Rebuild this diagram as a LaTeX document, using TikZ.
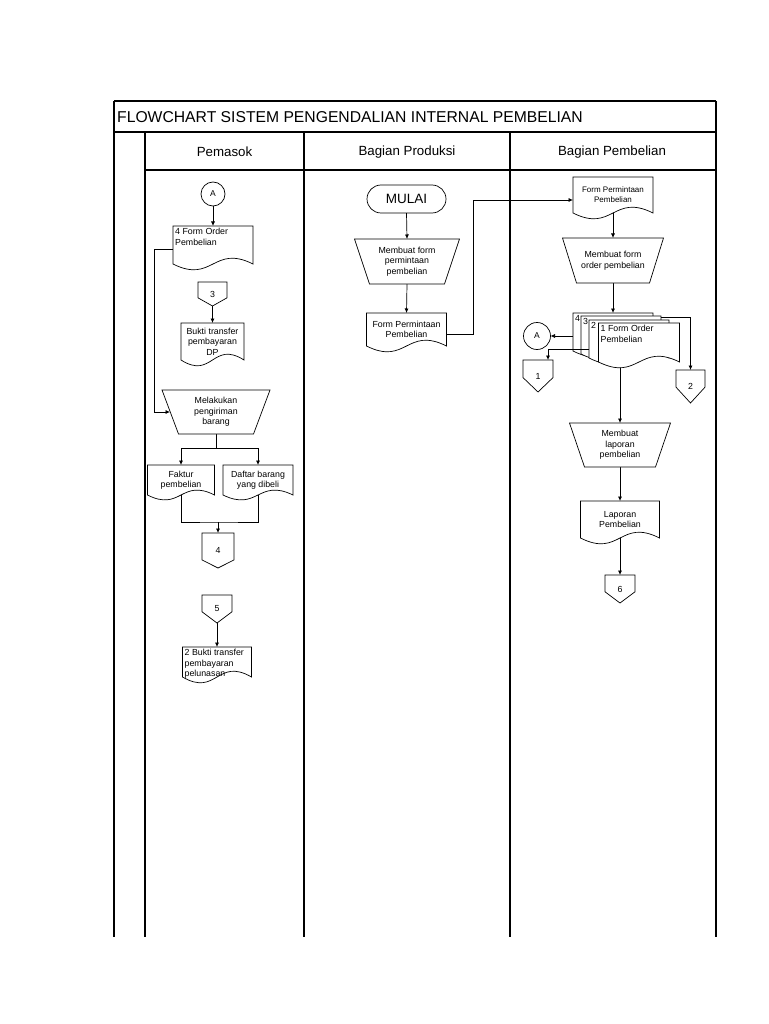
\documentclass[tikz,border=0pt]{standalone}
\usepackage{fontspec}
\setmainfont{Liberation Sans}
\usetikzlibrary{arrows.meta,calc}
\pgfdeclarelayer{bg}
\pgfdeclarelayer{shp}
\pgfsetlayers{bg,shp,main}
\newcommand\smallfnt{\fontsize{8.8}{10.5}\selectfont}
\newcommand\docshape[2][18pt]{%
  \begin{pgfonlayer}{shp}
  \draw[outl] (#2.north west) -- (#2.north east) -- (#2.south east)
     .. controls ($(#2.south)+(0pt,#1)$) and ($(#2.south)+(0pt,-#1)$) .. (#2.south west) -- cycle;
  \end{pgfonlayer}}
\newcommand\manop[2]{%
  \begin{pgfonlayer}{shp}
  \draw[outl] (#1.north west) -- (#1.north east) -- ([xshift=-#2]#1.south east) -- ([xshift=#2]#1.south west) -- cycle;
  \end{pgfonlayer}}
\newcommand\offpg[2][0.62]{%
  \begin{pgfonlayer}{shp}
  \draw[outl] (#2.north west) -- (#2.north east) -- ($(#2.north east)!#1!(#2.south east)$) -- (#2.south) -- ($(#2.north west)!#1!(#2.south west)$) -- cycle;
  \end{pgfonlayer}}
\tikzset{
  outl/.style={draw=black, line width=0.7pt, fill=white},
  box/.style={draw=none, inner sep=1pt, outer sep=0pt, align=center, font=\smallfnt},
  lab/.style={anchor=north west, inner sep=2pt, align=left, font=\smallfnt},
  conn/.style={circle, draw, line width=0.7pt, fill=white, inner sep=0pt, outer sep=0pt, font=\fontsize{8.5}{9}\selectfont},
  term/.style={draw, line width=0.7pt, fill=white, rounded corners=14pt, minimum width=79pt, minimum height=28pt, inner sep=0pt, outer sep=0pt, font=\fontsize{13.5}{15}\selectfont},
  arr/.style={line width=0.7pt, -{Latex[length=4.5pt,width=4pt]}},
  ln/.style={line width=0.7pt},
  lane/.style={line width=1.3pt},
  hdr/.style={font=\fontsize{13.3}{15}\selectfont, inner sep=0pt},
}
\begin{document}
\begin{tikzpicture}[x=1pt,y=-1pt]
\useasboundingbox (0,0) rectangle (768,1024);
% ---------- lanes ----------
\begin{pgfonlayer}{bg}
\draw[lane, line width=1.6pt] (114,101) -- (716,101);
\draw[lane] (114,101) -- (114,937);
\draw[lane, line width=1.6pt] (716,101) -- (716,937);
\draw[lane] (114,132) -- (716,132);
\draw[lane] (145,132) -- (145,937);
\draw[lane] (304,132) -- (304,937);
\draw[lane] (510,132) -- (510,937);
\draw[lane] (145,170) -- (716,170);
\end{pgfonlayer}
\node[anchor=west, inner sep=0pt, font=\fontsize{15.7}{18}\selectfont] (title) at (117,117) {FLOWCHART SISTEM PENGENDALIAN INTERNAL PEMBELIAN};
\node[hdr] (hP) at (224.5,152) {Pemasok};
\node[hdr] (hR) at (407,152) {Bagian Produksi};
\node[hdr] (hB) at (612,152) {Bagian Pembelian};
% ---------- Pemasok ----------
\node[conn, minimum size=24pt] (cA1) at (213,194) {A};
\node[box, minimum width=80pt, minimum height=38pt, label={[lab]north west:{4 Form Order\\Pembelian}}] (d4) at (213,245) {};
\node[box, minimum width=29pt, minimum height=24pt] (off3) at (212.5,294) {3};
\node[box, minimum width=63pt, minimum height=37pt] (dBukti) at (212.5,341.5) {Bukti transfer\\pembayaran\\DP};
\node[box, minimum width=108pt, minimum height=44pt] (mMel) at (216,412) {Melakukan\\pengiriman\\barang};
\node[box, minimum width=67pt, minimum height=30pt] (dFak) at (181,480) {Faktur\\pembelian};
\node[box, minimum width=70pt, minimum height=30pt] (dDaf) at (258,480) {Daftar barang\\yang dibeli};
\node[box, minimum width=32pt, minimum height=35pt] (off4) at (218,550.5) {4};
\node[box, minimum width=30pt, minimum height=28pt] (off5) at (217,609) {5};
\node[box, minimum width=69pt, minimum height=30pt, label={[lab]north west:{2 Bukti transfer\\pembayaran\\pelunasan}}] (dPel) at (217,662) {};
\coordinate (jn) at (218,522);
% ---------- Produksi ----------
\node[term] (mulai) at (406.5,199) {MULAI};
\node[box, minimum width=105pt, minimum height=45pt] (mPerm) at (407,261.5) {Membuat form\\permintaan\\pembelian};
\node[box, minimum width=80pt, minimum height=33pt] (dFPP) at (406.5,329.5) {Form Permintaan\\Pembelian};
% ---------- Pembelian ----------
\node[box, minimum width=80pt, minimum height=36pt, font=\fontsize{8}{10}\selectfont] (dFPB) at (613,195) {Form Permintaan\\Pembelian};
\node[box, minimum width=101pt, minimum height=45pt] (mOrd) at (613,260.5) {Membuat form\\order pembelian};
\node[box, minimum width=80pt, minimum height=38pt, label={[lab]north west:4}] (doc4) at (613,332) {};
\node[box, minimum width=80pt, minimum height=38pt, label={[lab]north west:3}] (doc3) at (621,335) {};
\node[box, minimum width=80pt, minimum height=38pt, label={[lab]north west:2}] (doc2) at (629,339) {};
\node[box, minimum width=81pt, minimum height=39pt, label={[lab]north west:{1 Form Order\\Pembelian}}] (doc1) at (639,342.5) {};
\node[conn, minimum size=27pt] (cA2) at (537,336) {A};
\node[box, minimum width=30pt, minimum height=32pt] (off1) at (538,376) {1};
\node[box, minimum width=29pt, minimum height=33pt] (off2) at (690.5,386.5) {2};
\node[box, minimum width=101pt, minimum height=44pt] (mLap) at (620,445) {Membuat\\laporan\\pembelian};
\node[box, minimum width=79pt, minimum height=37pt] (dLap) at (620,519.5) {Laporan\\Pembelian};
\node[box, minimum width=30pt, minimum height=28pt] (off6) at (620,589) {6};
% ---------- outlines ----------
\docshape[20pt]{d4}
\offpg[0.66]{off3}
\docshape[20pt]{dBukti}
\manop{mMel}{16.5pt}
\docshape[17pt]{dFak}
\docshape[17pt]{dDaf}
\offpg[0.77]{off4}
\offpg[0.6]{off5}
\docshape[20pt]{dPel}
\manop{mPerm}{15pt}
\docshape[20pt]{dFPP}
\docshape[20pt]{dFPB}
\manop{mOrd}{14pt}
\docshape[20pt]{doc4}
\docshape[20pt]{doc3}
\docshape[20pt]{doc2}
\docshape[20pt]{doc1}
\offpg[0.55]{off1}
\offpg[0.52]{off2}
\manop{mLap}{15pt}
\docshape[20pt]{dLap}
\offpg[0.6]{off6}
% ---------- connectors ----------
\begin{pgfonlayer}{bg}
\draw[arr] (cA1.south) -- (d4.north);
\draw[arr] ([yshift=-4.5pt]d4.west) -- ++(-19,0) |- ([xshift=8pt]mMel.west);
\draw[arr] (off3.south) -- (dBukti.north);
\draw[ln] (mMel.south) -- ++(0,14) coordinate (br);
\draw[arr] (br) -| (dFak.north);
\draw[arr] (br) -| (dDaf.north);
\draw[ln] (dFak.south) |- (jn) -| (dDaf.south);
\draw[arr] (jn) -- (off4.north);
\draw[arr] (off5.south) -- (dPel.north);
\draw[arr] (mulai.south) -- (mPerm.north);
\draw[arr] (mPerm.south) -- (dFPP.north);
\draw[arr] ([yshift=-5pt]dFPP.east) -- ++(27,0) |- ([yshift=-5pt]dFPB.west);
\draw[arr] (dFPB.south) -- (mOrd.north);
\draw[arr] (mOrd.south) -- (doc4.north);
\draw[arr] ([yshift=-4pt]doc4.west) -- (cA2.east);
\draw[arr] (doc1.south -| mLap.north) -- (mLap.north);
\draw[arr] (mLap.south) -- (dLap.north);
\draw[arr] (dLap.south) -- (off6.north);
\end{pgfonlayer}
\draw[arr] ([yshift=-10pt]doc2.west) -| ([xshift=10pt]off1.north);
\draw[arr] ([yshift=-1pt]doc3.north east) -| (off2.north);
\end{tikzpicture}
\end{document}
